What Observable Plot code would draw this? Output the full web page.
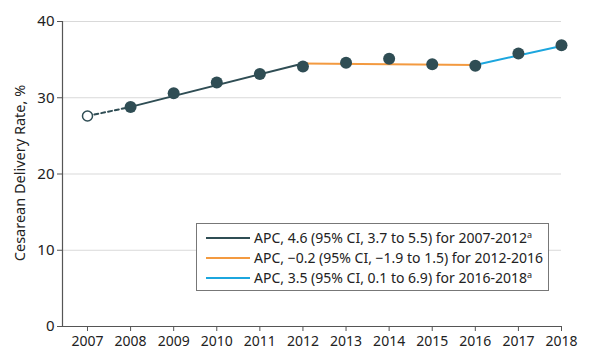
<!DOCTYPE html>
<html><head><meta charset="utf-8">
<script src="https://cdn.jsdelivr.net/npm/d3@7"></script>
<script src="https://cdn.jsdelivr.net/npm/@observablehq/plot@0.6"></script>
<style>
body{margin:0;background:#fff;font-family:"Noto Sans",sans-serif;}
#wrap{position:relative;width:594px;height:360px;}
#legend{position:absolute;left:196px;top:223px;width:353px;height:68px;border:1px solid #777;background:#fff;box-sizing:border-box;font-size:14px;color:#222;}
.row{position:absolute;left:9px;height:20px;line-height:20px;white-space:nowrap;}
.sw{display:inline-block;width:44px;height:2px;vertical-align:middle;margin-right:4px;position:relative;top:-1px;}
sup{font-size:9px;vertical-align:top;line-height:14px;}
</style></head><body><div id="wrap"><div id="legend"></div></div>
<script>
const years = [2007,2008,2009,2010,2011,2012,2013,2014,2015,2016,2017,2018];
const rates = [27.6,28.8,30.6,32.0,33.1,34.1,34.6,35.1,34.4,34.2,35.8,36.9];
const segNames = ["APC, 4.6 (95% CI, 3.7 to 5.5) for 2007-2012","APC, \u22120.2 (95% CI, \u22121.9 to 1.5) for 2012-2016","APC, 3.5 (95% CI, 0.1 to 6.9) for 2016-2018"];
const segSup = ["a","","a"];
const segColors = ["#2f4d54","#f39a40","#1ca6de"];
const segStartYear = [2008,2012,2016];
const segEndYear = [2012,2016,2018];
const segStartVal = [28.8,34.5,34.3];
const segEndVal = [34.5,34.3,36.8];
const dashYears = [2007,2008];
const dashVals = [27.6,28.8];
const yTicks = [0,10,20,30,40];

const segData = [];
segNames.forEach((n,i)=>{
  segData.push({seg:i,year:segStartYear[i],v:segStartVal[i]});
  segData.push({seg:i,year:segEndYear[i],v:segEndVal[i]});
});
const dashData = dashYears.map((y,i)=>({year:y,v:dashVals[i]}));
const pts = years.map((y,i)=>({year:y,v:rates[i],open:i===0}));

const chart = Plot.plot({
  width:594,height:360,
  marginLeft:62,marginRight:33,marginTop:21,marginBottom:34,
  style:{fontFamily:"Noto Sans",fontSize:"14px",color:"#222",background:"#fff"},
  x:{domain:[2006.42,2018],label:null},
  y:{domain:[0,40],label:null},
  marks:[
    Plot.gridY(yTicks.filter(t=>t>0),{stroke:"#d9d9d9",strokeOpacity:1,strokeWidth:1}),
    Plot.axisX({ticks:years,tickFormat:d=>String(d),stroke:"#555",fontSize:14,tickSize:5,tickPadding:5}),
    Plot.axisY({ticks:yTicks,stroke:"#555",fontSize:15,tickSize:5,tickPadding:3,label:null}),
    Plot.ruleY([0],{stroke:"#555",strokeWidth:1.2}),
    Plot.ruleX([2006.42],{stroke:"#555",strokeWidth:1.2}),
    Plot.line(dashData,{x:"year",y:"v",stroke:segColors[0],strokeWidth:2,strokeDasharray:"4,3"}),
    Plot.line(segData,{x:"year",y:"v",z:"seg",stroke:d=>segColors[d.seg],strokeWidth:2}),
    Plot.dot(pts.filter(d=>!d.open),{x:"year",y:"v",r:6,fill:"#2f4d54",stroke:"none"}),
    Plot.dot(pts.filter(d=>d.open),{x:"year",y:"v",r:5,fill:"#fff",stroke:"#2f4d54",strokeWidth:1.5})
  ]
});
chart.style.position="absolute";chart.style.left="0";chart.style.top="0";
document.getElementById("wrap").prepend(chart);

const svg = d3.select(chart);
svg.append("text").attr("transform","translate(25,173) rotate(-90)").attr("text-anchor","middle")
  .attr("font-size",14.5).attr("fill","#222").attr("font-family","Noto Sans").text("Cesarean Delivery Rate, %");

const lg = document.getElementById("legend");
segNames.forEach((n,i)=>{
  const r=document.createElement("div");r.className="row";r.style.top=(4+i*20)+"px";
  r.innerHTML=`<span class="sw" style="background:${segColors[i]}"></span>${n}${segSup[i]?`<sup>${segSup[i]}</sup>`:""}`;
  lg.appendChild(r);
});
</script></body></html>
